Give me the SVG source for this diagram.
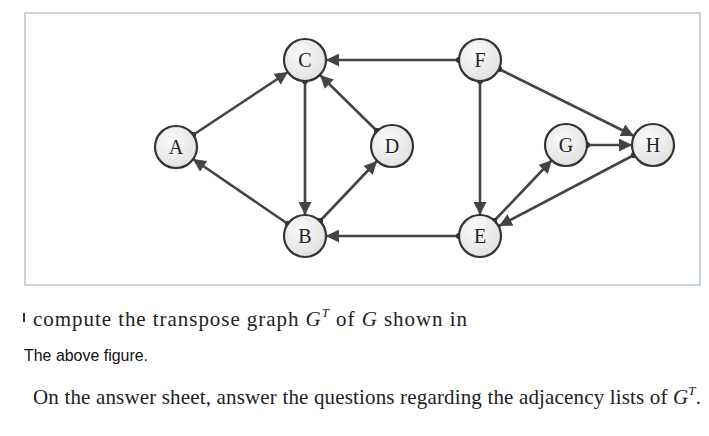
<svg xmlns="http://www.w3.org/2000/svg" width="709" height="436" viewBox="0 0 709 436">
<style>
.n circle{fill:url(#g);stroke:#333;stroke-width:2.2}
.n text{font-family:"Liberation Serif",serif;font-size:20px;text-anchor:middle;fill:#222}
#edges line{stroke:#444;stroke-width:2.6;marker-end:url(#ah);marker-start:url(#dot)}
.t{font-family:"Liberation Serif",serif;font-size:21px;fill:#222}
</style>
<defs>
<radialGradient id="g" cx="0.4" cy="0.35" r="0.7"><stop offset="0" stop-color="#fafafa"/><stop offset="1" stop-color="#e0e0e0"/></radialGradient>
<marker id="ah" viewBox="0 0 10 10" refX="10" refY="5" markerWidth="5" markerHeight="5" orient="auto"><path d="M0,0L10,5L0,10z" fill="#444"/></marker>
<marker id="dot" viewBox="0 0 10 10" refX="5" refY="5" markerWidth="2.4" markerHeight="2.4"><circle cx="5" cy="5" r="5" fill="#333"/></marker>
</defs>
<rect width="709" height="436" fill="#fff"/>
<rect x="25" y="13" width="675" height="272" fill="#fff" stroke="#8fa7b8" stroke-width="1"/>
<g id="edges">
<line x1="193" y1="135" x2="288" y2="72"/>
<line x1="305" y1="81" x2="305" y2="215"/>
<line x1="377" y1="131" x2="320" y2="75"/>
<line x1="320" y1="221" x2="377" y2="161"/>
<line x1="288" y1="224" x2="193" y2="159"/>
<line x1="459" y1="60" x2="326" y2="60"/>
<line x1="459" y1="236" x2="326" y2="236"/>
<line x1="480" y1="81" x2="480" y2="215"/>
<line x1="499" y1="69" x2="634" y2="136"/>
<line x1="587" y1="145" x2="632" y2="145"/>
<line x1="634" y1="155" x2="499" y2="226"/>
<line x1="494" y1="221" x2="552" y2="160"/>
</g>
<g id="A" class="n"><circle cx="176" cy="147" r="21"/><text x="176" y="154">A</text></g>
<g id="C" class="n"><circle cx="305" cy="60" r="21"/><text x="305" y="67">C</text></g>
<g id="D" class="n"><circle cx="392" cy="146" r="21"/><text x="392" y="153">D</text></g>
<g id="B" class="n"><circle cx="305" cy="236" r="21"/><text x="305" y="243">B</text></g>
<g id="F" class="n"><circle cx="480" cy="60" r="21"/><text x="480" y="67">F</text></g>
<g id="E" class="n"><circle cx="480" cy="236" r="21"/><text x="480" y="243">E</text></g>
<g id="G" class="n"><circle cx="566" cy="145" r="21"/><text x="566" y="152">G</text></g>
<g id="H" class="n"><circle cx="653" cy="145" r="21"/><text x="653" y="152">H</text></g>
<line x1="24" y1="313" x2="24" y2="322" stroke="#333" stroke-width="2"/>
<text class="t" x="33" y="326" textLength="434" lengthAdjust="spacing">compute the transpose graph <tspan font-style="italic">G</tspan><tspan font-style="italic" font-size="13" dy="-9">T</tspan><tspan dy="9"> of </tspan><tspan font-style="italic">G</tspan> shown in</text>
<text x="24" y="361" font-family="Liberation Sans,sans-serif" font-size="16" fill="#111" textLength="124" lengthAdjust="spacingAndGlyphs">The above figure.</text>
<text class="t" x="33" y="404" textLength="668" lengthAdjust="spacing">On the answer sheet, answer the questions regarding the adjacency lists of <tspan font-style="italic">G</tspan><tspan font-style="italic" font-size="13" dy="-9">T</tspan><tspan dy="9">.</tspan></text>
</svg>
